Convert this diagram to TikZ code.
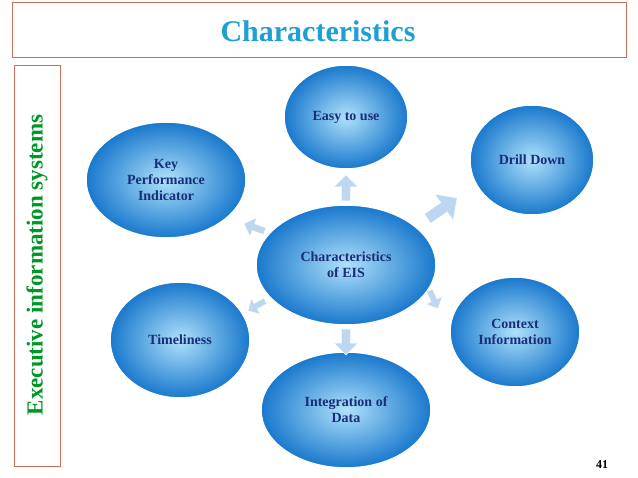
\documentclass[tikz,border=0pt]{standalone}
\usepackage{fontspec}
\setmainfont{Liberation Serif}
\usetikzlibrary{shapes.arrows,shapes.geometric}
\definecolor{ttl}{RGB}{30,160,210}
\definecolor{grn}{RGB}{0,150,40}
\definecolor{txt}{RGB}{25,45,120}
\definecolor{edge}{RGB}{200,110,90}
\definecolor{bin}{RGB}{175,225,250}
\definecolor{bout}{RGB}{25,120,205}
\definecolor{afill}{RGB}{190,215,240}
\begin{document}
\begin{tikzpicture}[x=1pt,y=-1pt,
 bub/.style={ellipse,draw=white,line width=1.5pt,inner color=bin,outer color=bout,
   font=\bfseries\fontsize{14}{16}\selectfont,text=txt,align=center,inner sep=0pt},
 arr/.style={single arrow,draw=white,fill=afill,minimum height=26pt,minimum width=24pt,single arrow head extend=4pt,inner sep=2pt}]
\useasboundingbox (0,0) rectangle (638,478);
\fill[white] (0,0) rectangle (638,478);
\draw[edge,line width=0.6pt] (12,2) rectangle (626,57);
\node (title) at (318,31) {\bfseries\fontsize{30}{34}\selectfont\color{ttl}Characteristics};
\draw[edge,line width=0.5pt] (14,65) rectangle (60,466);
\node[rotate=90,text=grn] (side) at (37,265) {\bfseries\fontsize{23}{26}\selectfont Executive information systems};
\node (num) at (602,465) {\bfseries\fontsize{12}{14}\selectfont 41};
\node[bub,minimum width=180pt,minimum height=120pt] (c) at (346,265) {Characteristics\\of EIS};
\node[bub,minimum width=124pt,minimum height=104pt] (e) at (346,117) {Easy to use};
\node[bub,minimum width=124pt,minimum height=110pt] (d) at (532,160) {Drill Down};
\node[bub,minimum width=130pt,minimum height=110pt] (ci) at (515,332) {Context\\Information};
\node[bub,minimum width=170pt,minimum height=116pt] (i) at (346,410) {Integration of\\Data};
\node[bub,minimum width=140pt,minimum height=116pt] (t) at (180,340) {Timeliness};
\node[bub,minimum width=160pt,minimum height=116pt] (k) at (166,180) {Key\\Performance\\Indicator};
\node[arr,rotate=90] (a1) at (346,190) {};
\node[arr,rotate=35,minimum height=36pt,minimum width=32pt] (a2) at (440,210) {};
\node[arr,rotate=-65,minimum height=20pt,minimum width=18pt] (a3) at (433,298) {};
\node[arr,rotate=-90] (a4) at (346,340) {};
\node[arr,rotate=-150,minimum height=20pt,minimum width=18pt] (a5) at (258,305) {};
\node[arr,rotate=160,minimum height=22pt,minimum width=20pt] (a6) at (256,228) {};
\end{tikzpicture}
\end{document}
